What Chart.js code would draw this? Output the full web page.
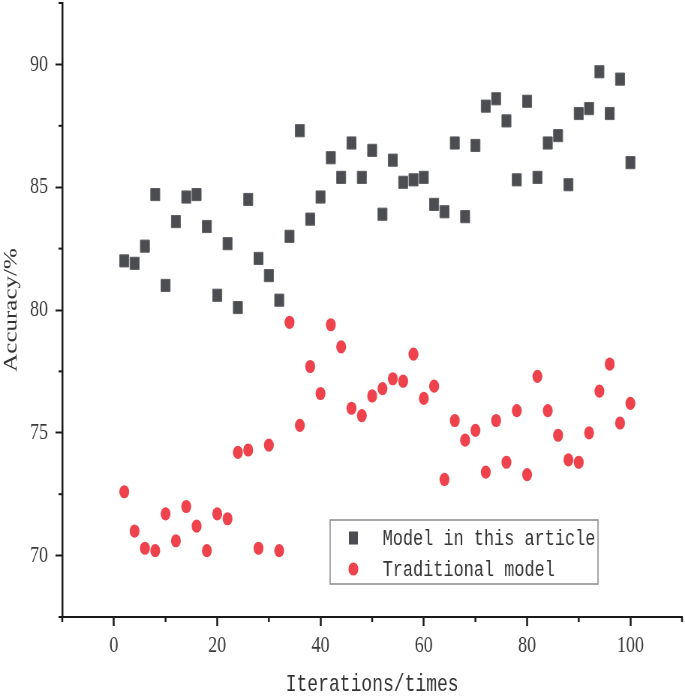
<!DOCTYPE html>
<html>
<head>
<meta charset="utf-8">
<script src="https://cdn.jsdelivr.net/npm/chart.js@4.4.1/dist/chart.umd.min.js"></script>
<style>
html, body { margin: 0; padding: 0; background: #fff; overflow: hidden; }
/* the original figure is squeezed sideways, so draw wide and squeeze */
#wrap { width: 913px; height: 699px; transform: scaleX(0.7503); transform-origin: 0 0; }
</style>
</head>
<body>
<div id="wrap"><canvas id="myChart" width="913" height="699"></canvas></div>
<script>
// iterations (x)
const iterations = [2, 4, 6, 8, 10, 12, 14, 16, 18, 20,
    22, 24, 26, 28, 30, 32, 34, 36, 38, 40,
    42, 44, 46, 48, 50, 52, 54, 56, 58, 60,
    62, 64, 66, 68, 70, 72, 74, 76, 78, 80,
    82, 84, 86, 88, 90, 92, 94, 96, 98, 100];

// accuracy, model in this article
const modelAcc = [82.0, 81.9, 82.6, 84.7, 81.0, 83.6, 84.6, 84.7, 83.4, 80.6,
    82.7, 80.1, 84.5, 82.1, 81.4, 80.4, 83.0, 87.3, 83.7, 84.6,
    86.2, 85.4, 86.8, 85.4, 86.5, 83.9, 86.1, 85.2, 85.3, 85.4,
    84.3, 84.0, 86.8, 83.8, 86.7, 88.3, 88.6, 87.7, 85.3, 88.5,
    85.4, 86.8, 87.1, 85.1, 88.0, 88.2, 89.7, 88.0, 89.4, 86.0];

// accuracy, traditional model
const tradAcc = [72.6, 71.0, 70.3, 70.2, 71.7, 70.6, 72.0, 71.2, 70.2, 71.7,
    71.5, 74.2, 74.3, 70.3, 74.5, 70.2, 79.5, 75.3, 77.7, 76.6,
    79.4, 78.5, 76.0, 75.7, 76.5, 76.8, 77.2, 77.1, 78.2, 76.4,
    76.9, 73.1, 75.5, 74.7, 75.1, 73.4, 75.5, 73.8, 75.9, 73.3,
    77.3, 75.9, 74.9, 73.9, 73.8, 75.0, 76.7, 77.8, 75.4, 76.2];

const seriesNames = ['Model in this article', 'Traditional model'];

// axis ticks
const xTicks = [0, 20, 40, 60, 80, 100];
const xMinor = [-10, 10, 30, 50, 70, 90, 110];
const yTicks = [70, 75, 80, 85, 90];
const yMinor = [67.5, 72.5, 77.5, 82.5, 87.5, 92.5];

const toPoints = ys => iterations.map((x, i) => ({x: x, y: ys[i]}));

// short minor ticks on both axes
const minorTicks = {
    id: 'minorTicks',
    afterDraw(chart) {
        const ctx = chart.ctx;
        const xs = chart.scales.x, ys = chart.scales.y;
        ctx.save();
        ctx.strokeStyle = '#1a1a1a';
        ctx.lineWidth = 2.5;
        xMinor.forEach(v => {
            const px = xs.getPixelForValue(v);
            ctx.beginPath();
            ctx.moveTo(px, xs.top);
            ctx.lineTo(px, xs.top + 5);
            ctx.stroke();
        });
        ctx.lineWidth = 2;
        yMinor.forEach(v => {
            const py = ys.getPixelForValue(v);
            ctx.beginPath();
            ctx.moveTo(ys.right, py);
            ctx.lineTo(ys.right - 5, py);
            ctx.stroke();
        });
        ctx.restore();
    }
};

// boxed legend inside the plot
const legendBox = {
    id: 'legendBox',
    afterDraw(chart) {
        const ctx = chart.ctx;
        ctx.save();
        ctx.fillStyle = '#fff';
        ctx.fillRect(440, 520, 357, 64);
        ctx.strokeStyle = '#8c8c8c';
        ctx.lineWidth = 1.5;
        ctx.strokeRect(440, 520, 357, 64);
        ctx.font = '22.5px "Liberation Mono"';
        ctx.textBaseline = 'middle';
        chart.data.datasets.forEach((ds, i) => {
            const y = 538 + i * 31;
            ctx.fillStyle = ds.backgroundColor;
            if (ds.pointStyle === 'rect') {
                ctx.fillRect(465, y - 6.5, 12, 13);
            } else {
                ctx.beginPath();
                ctx.arc(471, y, 6.6, 0, Math.PI * 2);
                ctx.fill();
            }
            ctx.fillStyle = '#333';
            ctx.fillText(ds.label, 510, y + 1);
        });
        ctx.restore();
    }
};

const data = {
    datasets: [{
        label: seriesNames[0],
        data: toPoints(modelAcc),
        pointStyle: 'rect',
        pointRadius: 8.6,
        backgroundColor: '#4b4d51',
        borderColor: '#5d5f63',
        borderWidth: 1
    }, {
        label: seriesNames[1],
        data: toPoints(tradAcc),
        pointStyle: 'circle',
        pointRadius: 6.6,
        backgroundColor: '#ee424c',
        borderColor: '#ee424c',
        borderWidth: 0
    }]
};

const config = {
    type: 'scatter',
    data: data,
    options: {
        responsive: false,
        animation: false,
        devicePixelRatio: 1,
        layout: {autoPadding: false, padding: {top: 3, right: 4, left: 0, bottom: 0}},
        plugins: {legend: {display: false}, tooltip: {enabled: false}},
        scales: {
            x: {
                type: 'linear',
                min: -10,
                max: 110,
                afterBuildTicks: s => { s.ticks = xTicks.map(v => ({value: v})); },
                afterFit: s => { s.height = 82; s.paddingLeft = 0; s.paddingRight = 0; },
                border: {color: '#1a1a1a', width: 2},
                grid: {drawOnChartArea: false, tickLength: 9, tickWidth: 2.5, tickColor: '#1a1a1a'},
                ticks: {color: '#3a3a3a', font: {family: 'Liberation Serif', size: 24}, padding: 5, maxRotation: 0},
                title: {display: true, text: 'Iterations/times', color: '#333',
                    font: {family: 'Liberation Mono', size: 24}, padding: {top: 0, bottom: 0}}
            },
            y: {
                type: 'linear',
                min: 67.5,
                max: 92.5,
                afterBuildTicks: s => { s.ticks = yTicks.map(v => ({value: v})); },
                afterFit: s => { s.width = 83; s.paddingTop = 0; s.paddingBottom = 0; },
                border: {color: '#1a1a1a', width: 2.5},
                grid: {drawOnChartArea: false, tickLength: 9, tickWidth: 2, tickColor: '#1a1a1a'},
                ticks: {color: '#3a3a3a', font: {family: 'Liberation Serif', size: 24}, padding: 10},
                title: {display: true, text: 'Accuracy/%', color: '#333',
                    font: {family: 'Liberation Serif', size: 25}, padding: {top: 0, bottom: 0}}
            }
        }
    },
    plugins: [minorTicks, legendBox]
};

const myChart = new Chart(document.getElementById('myChart'), config);
</script>
</body>
</html>
